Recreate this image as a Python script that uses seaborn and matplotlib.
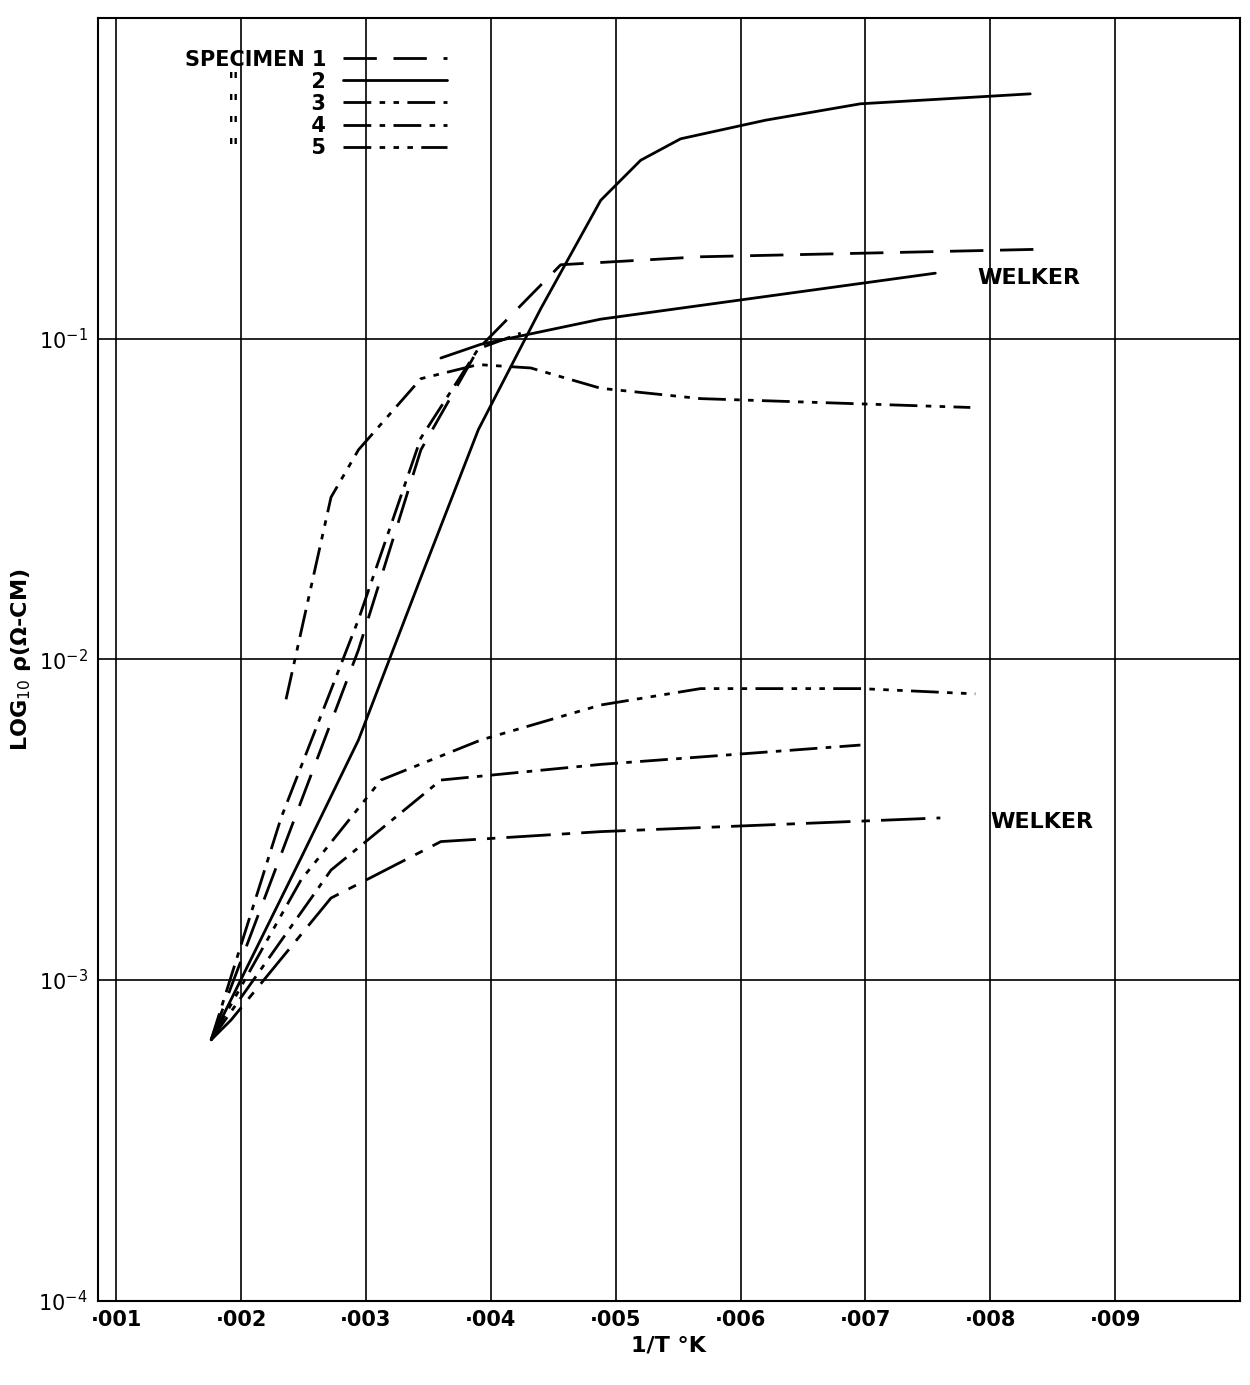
import matplotlib
matplotlib.use("Agg")
import matplotlib.pyplot as plt
import seaborn as sns

sns.set_style("white")
plt.rcParams['font.family'] = ['DejaVu Sans']
plt.rcParams['text.color'] = 'black'
plt.rcParams['axes.labelcolor'] = 'black'
plt.rcParams['xtick.color'] = 'black'
plt.rcParams['ytick.color'] = 'black'

# data: 1/T (1/K) and resistivity (ohm-cm)
s1_x = [.00176, .00248, .00294, .00344, .0039, .00456, .00568, .0084]
s1_y = [6.5e-4, 3.6e-3, 1.07e-2, 0.045, 0.093, 0.17, 0.18, 0.19]
s2_x = [.00176, .00248, .00294, .00344, .0039, .0044, .00488, .00520, .00552, .00620, .00696, .00832]
s2_y = [6.5e-4, 2.4e-3, 5.6e-3, 0.018, 0.052, 0.124, 0.27, 0.36, 0.42, 0.48, 0.54, 0.58]
s3_x = [.00236, .00272, .00294, .00344, .0039, .00432, .00488, .00568, .00784]
s3_y = [7.5e-3, 0.032, 0.045, 0.075, 0.083, 0.081, 0.070, 0.065, 0.061]
s4_x = [.00176, .00232, .00294, .00344, .0039, .00424]
s4_y = [6.5e-4, 3.2e-3, 0.0133, 0.049, 0.093, 0.104]
s5_x = [.00176, .00248, .00312, .00392, .00488, .00568, .00696, .00788]
s5_y = [6.5e-4, 2.05e-3, 4.2e-3, 5.6e-3, 7.2e-3, 8.1e-3, 8.1e-3, 7.8e-3]
wu_x = [.0036, .00392, .00488, .00756]
wu_y = [0.087, 0.096, 0.115, 0.16]
l2_x = [.00176, .00272, .0036, .00488, .00696]
l2_y = [6.5e-4, 2.2e-3, 4.2e-3, 4.7e-3, 5.4e-3]
wl_x = [.00176, .00192, .00272, .0036, .00488, .0076]
wl_y = [6.5e-4, 7.5e-4, 1.8e-3, 2.7e-3, 2.9e-3, 3.2e-3]

x_ticks = [.001, .002, .003, .004, .005, .006, .007, .008, .009]
x_labels = ['·001', '·002', '·003', '·004', '·005', '·006', '·007', '·008', '·009']
y_ticks = [1e-4, 1e-3, 1e-2, 1e-1]
y_labels = ['$10^{-4}$', '$10^{-3}$', '$10^{-2}$', '$10^{-1}$']
legend_labels = ['SPECIMEN 1', '"          2', '"          3', '"          4', '"          5']

fig = plt.figure(figsize=(12.5, 13.85), dpi=100)
ax = fig.add_axes([0.078, 0.061, 0.914, 0.926])

styles = {
    'dash': (0, (12, 6)),
    'solid': '-',
    'ddot': (0, (10, 3, 2, 3, 2, 3)),
    'dot': (0, (10, 3, 2, 3)),
    'dddot': (0, (10, 3, 2, 3, 2, 3, 2, 3)),
}
curves = [
    (s1_x, s1_y, 'dash', legend_labels[0]),
    (s2_x, s2_y, 'solid', legend_labels[1]),
    (s3_x, s3_y, 'ddot', legend_labels[2]),
    (s4_x, s4_y, 'dot', legend_labels[3]),
    (s5_x, s5_y, 'dddot', legend_labels[4]),
    (wu_x, wu_y, 'solid', None),
    (l2_x, l2_y, 'dot', None),
    (wl_x, wl_y, (0, (16, 4, 3, 4)), None),
]
for xs, ys, st, lab in curves:
    ls = styles.get(st, st) if isinstance(st, str) else st
    sns.lineplot(x=xs, y=ys, ax=ax, color='black', lw=2, linestyle=ls,
                 label=lab, estimator=None, sort=False)

ax.set_yscale('log')
ax.set_xlim(0.00085, 0.0100)
ax.set_ylim(1e-4, 1.0)
ax.set_xticks(x_ticks)
ax.set_xticklabels(x_labels, fontsize=15, fontweight='bold')
ax.set_yticks(y_ticks)
ax.set_yticklabels(y_labels, fontsize=15)
ax.yaxis.set_minor_locator(matplotlib.ticker.NullLocator())
ax.grid(True, color='black', lw=1.2)
for s in ax.spines.values():
    s.set_color('black'); s.set_linewidth(1.5)
ax.set_xlabel('1/T °K', fontsize=16, fontweight='bold')
ax.set_ylabel('LOG$_{10}$ ρ(Ω-CM)', fontsize=16, fontweight='bold')

ax.text(0.0079, 0.155, 'WELKER', fontsize=16, fontweight='bold', va='center')
ax.text(0.0080, 3.1e-3, 'WELKER', fontsize=16, fontweight='bold', va='center')

leg = ax.legend(loc='upper left', bbox_to_anchor=(0.06, 0.99), frameon=False,
                markerfirst=False, fontsize=15, handlelength=5, labelspacing=0.1)
for t in leg.get_texts():
    t.set_fontweight('bold')
    t.set_color('black')

fig.savefig('out.png', dpi=100, facecolor='white')
